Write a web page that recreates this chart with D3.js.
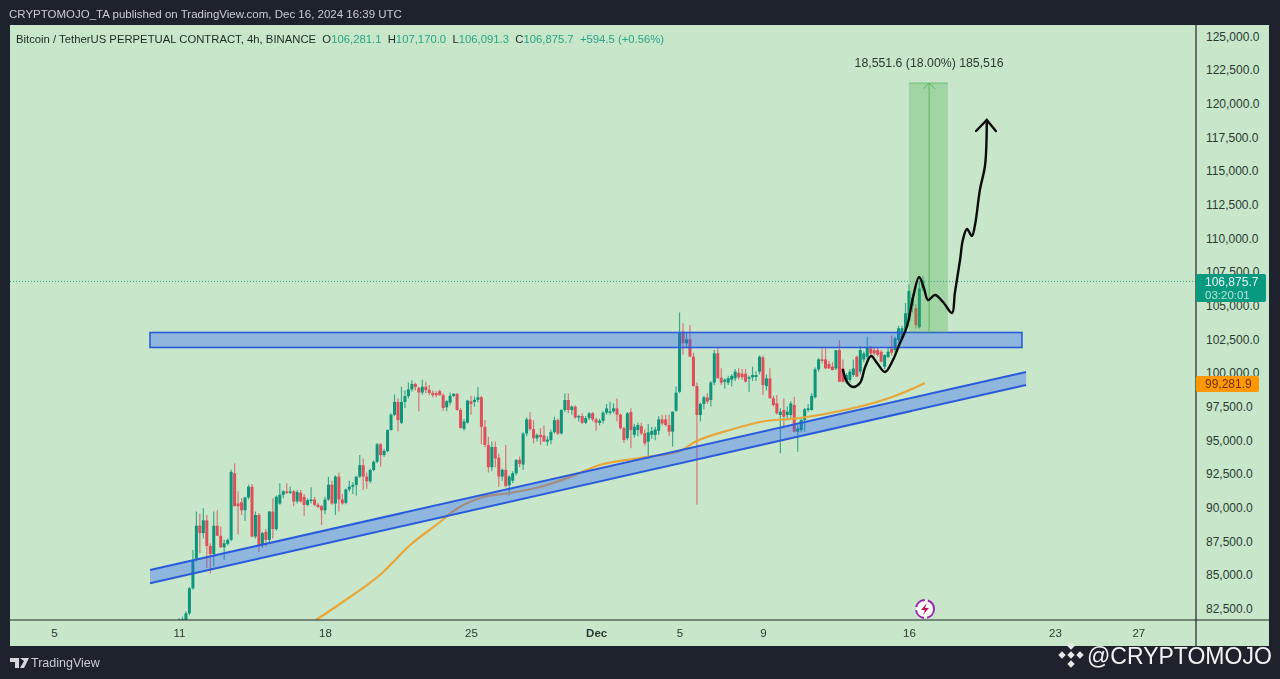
<!DOCTYPE html>
<html><head><meta charset="utf-8">
<script src="https://cdn.jsdelivr.net/npm/d3@7"></script>
<style>html,body{margin:0;padding:0;background:#1e222d}svg{display:block}text{font-family:"Liberation Sans",Arial,sans-serif}</style>
</head><body><svg id="c" width="1280" height="679"></svg>
<script>
// 4h candles, index 0 = Nov 11 00:00 UTC: [open, high, low, close]
const ohlc = [
[81300,81800,81100,81500],[81500,81900,81300,81700],[81600,82300,81400,82140],[82140,84100,82000,84000],[84000,86850,83900,86100],
[86200,89700,86000,88650],[88650,89550,86600,88100],[88100,89950,87700,89050],[89050,89450,85500,87150],[87150,87350,85100,86550],
[86550,89700,85600,88650],[88650,89800,87900,87900],[87900,88600,87000,87050],[87050,87600,86100,87350],[87300,87700,87200,87600],
[87600,92800,87500,92650],[92550,93300,90100,90100],[90300,91200,88000,90100],[90400,90700,89450,89800],[89800,90800,89000,90750],
[90750,91700,90600,91550],[91550,91750,87800,87850],[87850,89700,87700,89450],[89450,89600,86700,87200],[87200,88200,87000,88100],
[88200,88400,87100,87600],[87600,89750,87400,89700],[89700,90700,87700,88400],[88400,90900,88300,90800],[90300,91800,90200,90950],
[90950,91300,90700,91200],[91200,91800,91000,91150],[91150,91550,91000,91200],[91200,91300,90100,90450],[90450,91300,90300,91150],
[91100,91300,90350,90450],[90800,91000,89400,90200],[90200,90700,90100,90550],[90550,91500,90300,90600],[90600,90800,90100,90200],
[90200,90350,89950,90050],[90100,90200,88700,89800],[89800,90800,89500,90600],[90600,92300,90500,91700],[91700,92000,90200,90300],
[90300,92400,89450,92300],[92300,92600,89700,90600],[90600,91000,90200,90300],[90350,91400,90250,91350],[91350,92000,91200,91550],
[91550,91900,91000,91680],[91680,92300,90900,92300],[92300,93900,92200,93150],[93150,93650,91300,92300],[92300,92600,91400,91950],
[91950,92900,91800,92790],[92790,93500,92700,93400],[93400,94800,93300,94700],[94700,94800,93050,93900],[93900,94350,93750,94200],
[94200,95800,94100,95760],[95760,97000,95700,96900],[96900,98400,96800,97850],[97850,98100,95650,96500],[96300,98980,96200,97850],
[97850,98700,97400,98280],[98280,99300,98100,98780],[98780,99450,98600,99180],[99180,99300,98700,98950],[98900,99000,97150,98550],
[98550,99500,98400,98980],[98980,99350,98500,98730],[98750,99100,98350,98520],[98520,98700,98200,98350],[98500,98650,98200,98350],
[98650,98750,98300,98350],[98350,98500,97200,97400],[97450,98000,97150,97900],[97800,98550,97600,98300],[98300,98500,98200,98450],
[98450,98500,97200,97250],[97250,97400,95900,95900],[95850,96600,95700,96400],[96300,98000,96250,97950],[97900,98300,96900,97700],
[97850,98250,97500,98000],[98000,98950,97800,98200],[98200,98300,94700,96000],[96000,96500,94500,94650],[94650,95270,92600,93000],
[93000,94900,92700,94500],[94500,94900,93000,93650],[93700,94000,91550,92300],[92300,92900,92000,92800],[92800,94650,91500,91600],
[91650,92400,90900,92300],[92000,92700,91800,92550],[92550,93600,92400,93530],[93550,93800,93000,93250],[93200,95600,92800,95500],
[95500,96700,95300,96550],[96550,97100,95700,95830],[95830,96500,94770,95150],[95150,95500,94900,95400],[95400,95900,94650,95250],
[95350,96100,94900,94900],[94900,95300,94600,95050],[95000,95800,94700,95600],[95600,96750,95500,96500],[96500,96600,95400,95500],
[95500,97300,95450,97250],[97250,98500,97100,97990],[97990,98500,97000,97250],[97250,97600,96900,97500],[97500,97600,96600,96700],
[96700,96900,96400,96800],[96800,97000,96200,96300],[96300,96800,96200,96650],[96650,97100,96500,97000],[97000,97100,96400,96550],
[96550,96700,95700,96300],[96300,96600,96100,96450],[96450,97150,96250,97050],[97050,97700,96900,97370],[97050,97870,96900,97150],
[97150,97750,97000,97370],[97370,98100,96400,96900],[96900,97000,95800,95900],[95900,96000,94800,95020],[95150,97100,95000,97000],
[97100,97370,94400,95760],[95400,96200,95200,96000],[95760,96300,95300,96130],[96050,96300,95400,95515],[95515,95800,94600,94770],
[94900,96200,93650,95590],[95400,96000,95100,95690],[95400,96000,95000,95800],[95700,96800,95400,96550],[96550,96900,96100,96250],
[96550,96900,96050,96130],[96130,96900,95300,95640],[95640,97150,94525,97120],[97200,99000,97100,98540],[98600,104500,98500,102950],
[103070,103690,101350,102200],[102200,103000,101900,102500],[102500,103570,101200,101210],[101210,101500,99000,99030],[99030,99300,90200,96880],
[96880,97800,96400,97700],[97700,98300,97300,98190],[98190,98500,97700,97870],[97990,99400,97500,99280],[99280,101700,99100,101460],
[101460,101830,99600,99600],[99650,100350,99100,99280],[99350,99600,98850,99500],[99280,99800,99100,99600],[99500,99900,99000,99780],
[99600,100300,99400,100100],[100000,100350,99500,99680],[99950,100300,99500,99680],[99950,100300,99300,99350],[99600,99800,98600,99680],
[99680,100470,99400,99850],[99700,100100,99400,99850],[100100,101300,99900,101210],[101160,101300,98360,99100],[99030,99900,98700,99600],
[99600,100350,98100,98120],[98120,98300,97500,97620],[97740,98360,96900,97000],[96880,97400,94030,97120],[97250,98100,95880,96750],
[96880,97500,96500,97120],[96880,97900,96600,97740],[97620,98240,95600,95640],[95640,96100,94150,95880],[95760,96700,95600,96500],
[96500,97400,95640,97300],[97250,97700,97100,97370],[97250,98500,97200,98290],[98200,100400,98100,100270],[100270,101100,100100,101010],
[101010,101830,100700,100910],[101010,101830,100300,100350],[100670,100900,100300,100340],[100470,100800,100200,100220],[100340,101700,100200,101700],
[101700,102450,99350,99350],[100340,101000,99300,99350],[99350,100000,99200,99850],[99480,100300,99300,100100],[99850,101000,99700,100340],
[101200,101300,99700,99725],[100100,102000,99900,101700],[101000,101600,100800,101450],[101200,102700,101000,101900],[101830,102000,101200,101450],
[101700,101850,101300,101450],[101700,101900,101200,101340],[101580,101700,100800,100840],[100470,101400,100300,101330],[101200,101900,101100,101580],
[101800,102800,101300,101500],[101700,102700,101500,102570],[102450,103500,102300,103320],[102570,103500,102400,103320],[103200,105200,103000,104430],
[103950,106600,103800,106100],[105000,105900,104500,105600],[104800,105100,103300,103560],[103400,106800,103300,106281],[106281,107170,106091,106875]
];
const emaIdx = [39.4,49.2,57.8,66.5,75.1,79.4,86.6,95.2,103.9,112.5,121.1,132.6,144.1,148.4,158.5,167.1,178.7,190.2,201.7,208.9,214.6];
const emaVal = [81646,83355,84989,87218,88927,89819,90711,91082,91528,92271,93162,93683,94203,94871,95763,96357,96655,97175,97918,98586,99255];
const sketchIdx = [191,192.2,193.9,195.9,197.4,199.1,200.8,203.1,205.4,207.4,209.4,211.2,212.9,214.3,215.5,217.5,219.8,222.4,223.2,224.7,225.5,226.7,228.1,229,230.4,231.9,232.4];
const sketchVal = [100221,99329,98958,99255,100444,101261,100741,100072,100964,102227,103416,105645,107131,106314,105422,105794,105273,104456,105942,108394,109880,110697,110177,110995,113595,115452,118796];
const arrowIdx = [229.3,232.4,235];
const arrowVal = [117979,118796,117979];
const zoneIdx = [-8.34,242.5];
const zoneVal = [103007,101893];
const channelIdx = [-8.34,243.7];
const channelTop = [85361,100072];
const channelBottom = [84373,99106];
const targetIdx = [210,215.8,221.2];
const targetVal = [102994,121545];
const yTicks = [82500,85000,87500,90000,92500,95000,97500,100000,102500,105000,107500,110000,112500,115000,117500,120000,122500,125000];
const xTickIdx = [-36,0,42,84,120,144,168,210,252,276];
const xTickLabels = ["5","11","18","25","Dec","5","9","16","23","27"];
const lastPrice = 106875.7, emaLast = 99281.9;

const svg = d3.select("#c");
const W=1280,H=679,L=10,T=25,R=1196,B=620;
const x = d3.scaleLinear().domain([-48.62,292.58]).range([L,R]);
const y = d3.scaleLinear().domain([82500,125000]).range([608.5,36.5]);
const FF='"Liberation Sans",Arial,sans-serif';

svg.append("rect").attr("width",W).attr("height",H).attr("fill","#1e222d");
svg.append("rect").attr("x",L).attr("y",T).attr("width",1259).attr("height",621).attr("fill","#c8e6c9");
svg.append("clipPath").attr("id","plot").append("rect").attr("x",L).attr("y",T).attr("width",R-L).attr("height",B-T);
const plot = svg.append("g").attr("clip-path","url(#plot)");

// dotted last price line
plot.append("line").attr("x1",L).attr("x2",R).attr("y1",y(lastPrice)+1).attr("y2",y(lastPrice)+1)
  .attr("stroke","#089981").attr("stroke-width",1).attr("stroke-dasharray","1 2").attr("opacity",.8);

// candles
const up="#0c957b", dn="#de4f5a";
const cg = plot.append("g").style("filter","blur(0.4px)");
const cand = cg.selectAll("g").data(ohlc).join("g");
cand.append("line").attr("x1",(d,i)=>x(i)).attr("x2",(d,i)=>x(i)).attr("y1",d=>y(d[1])).attr("y2",d=>y(d[2]))
  .attr("stroke",d=>d[3]>=d[0]?up:dn).attr("stroke-width",1.2).attr("opacity",.75);
cand.append("rect").attr("x",(d,i)=>x(i)-1.5).attr("width",3)
  .attr("y",d=>y(Math.max(d[0],d[3]))).attr("height",d=>Math.max(1.5,Math.abs(y(d[0])-y(d[3]))))
  .attr("fill",d=>d[3]>=d[0]?up:dn);

// EMA
plot.append("path").datum(emaIdx.map((v,i)=>[v,emaVal[i]]))
  .attr("d",d3.line().x(d=>x(d[0])).y(d=>y(d[1])).curve(d3.curveMonotoneX))
  .attr("fill","none").attr("stroke","#e8a63a").attr("stroke-width",2.2);

// channel
const blue="#2a5bdc", blueFill="rgba(41,98,255,.36)";
plot.append("path").datum([[channelIdx[0],channelTop[0]],[channelIdx[1],channelTop[1]],[channelIdx[1],channelBottom[1]],[channelIdx[0],channelBottom[0]]])
  .attr("d",d=>d3.line().x(p=>x(p[0])).y(p=>y(p[1]))(d)+"Z").attr("fill",blueFill).attr("stroke","none");
[channelTop,channelBottom].forEach(a=>plot.append("line")
  .attr("x1",x(channelIdx[0])).attr("x2",x(channelIdx[1])).attr("y1",y(a[0])).attr("y2",y(a[1]))
  .attr("stroke",blue).attr("stroke-width",2));

// horizontal zone
plot.append("rect").attr("x",x(zoneIdx[0])).attr("width",x(zoneIdx[1])-x(zoneIdx[0]))
  .attr("y",y(zoneVal[0])).attr("height",y(zoneVal[1])-y(zoneVal[0]))
  .attr("fill",blueFill).attr("stroke",blue).attr("stroke-width",1.6);

// target tool
const tg="#4caf50";
plot.append("rect").attr("x",x(targetIdx[0])).attr("width",x(targetIdx[2])-x(targetIdx[0]))
  .attr("y",y(targetVal[1])).attr("height",y(targetVal[0])-y(targetVal[1]))
  .attr("fill",tg).attr("opacity",.3);
plot.append("line").attr("x1",x(targetIdx[0])).attr("x2",x(targetIdx[2])).attr("y1",y(targetVal[1])).attr("y2",y(targetVal[1])).attr("stroke",tg).attr("opacity",.7);
plot.append("line").attr("x1",x(targetIdx[1])).attr("x2",x(targetIdx[1])).attr("y1",y(targetVal[0])).attr("y2",y(targetVal[1])).attr("stroke",tg).attr("opacity",.8);
plot.append("path").attr("d",`M${x(targetIdx[1])-6},${y(targetVal[1])+6}L${x(targetIdx[1])},${y(targetVal[1])}L${x(targetIdx[1])+6},${y(targetVal[1])+6}`)
  .attr("fill","none").attr("stroke",tg).attr("opacity",.8);
svg.append("text").attr("x",x(targetIdx[1])).attr("y",67).attr("text-anchor","middle").attr("font-size",12.3).attr("fill","#2b3a33")
  .text("18,551.6 (18.00%) 185,516");

// freehand projection
plot.append("path").datum(sketchIdx.map((v,i)=>[v,sketchVal[i]]))
  .attr("d",d3.line().x(d=>x(d[0])).y(d=>y(d[1])).curve(d3.curveCatmullRom.alpha(.5))).attr("fill","none").attr("stroke","#0b0b0b").attr("stroke-width",2.4).attr("stroke-linecap","round");
plot.append("path").datum(arrowIdx.map((v,i)=>[v,arrowVal[i]]))
  .attr("d",d3.line().x(d=>x(d[0])).y(d=>y(d[1]))).attr("fill","none").attr("stroke","#0b0b0b").attr("stroke-width",2.4).attr("stroke-linecap","round");

// lightning badge
const bz = svg.append("g").attr("transform","translate(925,609)");
bz.append("circle").attr("r",9).attr("fill","#fff").attr("stroke","#9c27b0").attr("stroke-width",2).attr("stroke-dasharray","12 3");
bz.append("path").attr("d","M2,-6L-4,1H0L-2,6L4,-1H0Z").attr("fill","#c2185b");

// axes
const yAxis = d3.axisRight(y).tickValues(yTicks).tickSize(0).tickPadding(10).tickFormat(d3.format(",.1f"));
const ya = svg.append("g").attr("transform",`translate(${R},0)`).call(yAxis);
ya.select(".domain").remove();
ya.selectAll("text").attr("font-size",12).attr("fill","#2b3a33").style("font-family",FF);
const xAxis = d3.axisBottom(x).tickValues(xTickIdx).tickSize(0).tickPadding(9).tickFormat((d,i)=>xTickLabels[i]);
const xa = svg.append("g").attr("transform",`translate(0,${B})`).call(xAxis);
xa.select(".domain").remove();
xa.selectAll("text").attr("font-size",11.5).attr("fill","#2b3a33").style("font-family",FF)
  .attr("font-weight",(d,i)=>xTickLabels[i]==="Dec"?"bold":"normal");
svg.append("line").attr("x1",R).attr("x2",R).attr("y1",T).attr("y2",646).attr("stroke","#20262b").attr("stroke-width",1.2);
svg.append("line").attr("x1",L).attr("x2",1269).attr("y1",B).attr("y2",B).attr("stroke","#20262b").attr("stroke-width",1.2);

// price labels
const lb = svg.append("g");
lb.append("rect").attr("x",R).attr("y",274).attr("width",70).attr("height",28).attr("rx",2).attr("fill","#089981");
lb.append("text").attr("x",1205).attr("y",285.5).attr("font-size",12).attr("fill","#e6f5f0").text(d3.format(",.1f")(lastPrice));
lb.append("text").attr("x",1205).attr("y",298.5).attr("font-size",11.5).attr("fill","#b5e3d6").text("03:20:01");
lb.append("rect").attr("x",R).attr("y",376).attr("width",63).attr("height",16).attr("rx",2).attr("fill","#ff9800");
lb.append("text").attr("x",1205).attr("y",388).attr("font-size",12).attr("fill","#6b3410").text(d3.format(",.1f")(emaLast));

// header
svg.append("text").attr("x",9).attr("y",18).attr("font-size",11.5).attr("fill","#c9ccd3").text("CRYPTOMOJO_TA published on TradingView.com, Dec 16, 2024 16:39 UTC");
const leg = svg.append("text").attr("x",16).attr("y",43).attr("font-size",11.3).attr("fill","#1d2a25").attr("xml:space","preserve");
const gr="#2aa587";
[["Bitcoin / TetherUS PERPETUAL CONTRACT, 4h, BINANCE  O",null],["106,281.1",gr],["  H",null],["107,170.0",gr],["  L",null],["106,091.3",gr],["  C",null],["106,875.7",gr],["  +594.5 (+0.56%)",gr]]
  .forEach(([t,c])=>{const s=leg.append("tspan").text(t);if(c)s.attr("fill",c);});

// footer
svg.append("path").attr("d","M10,658H19V668H15V662H10ZM20,658H29L24,668H20L24,661Z").attr("fill","#d5d7dc");
svg.append("text").attr("x",31).attr("y",667).attr("font-size",12.5).attr("fill","#c9ccd3").text("TradingView");
const bn = svg.append("g").attr("transform","translate(1071,655)").attr("fill","#e8e8e8");
[[0,-9],[-9,0],[9,0],[0,9],[0,0]].forEach(p=>bn.append("rect").attr("x",p[0]-2.6).attr("y",p[1]-2.6).attr("width",5.2).attr("height",5.2).attr("transform",`rotate(45 ${p[0]} ${p[1]})`));
svg.append("text").attr("x",1087).attr("y",664).attr("font-size",23).attr("fill","#f2f2f2").text("@CRYPTOMOJO");
</script></body></html>
